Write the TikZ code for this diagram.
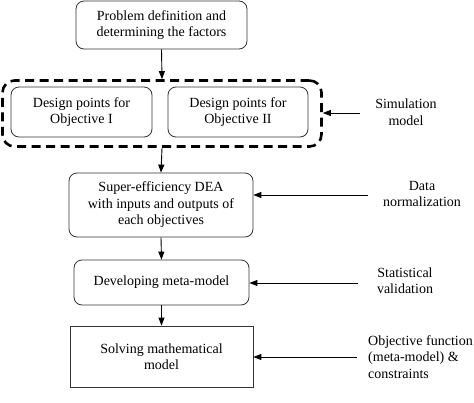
\documentclass[tikz,border=0pt]{standalone}
\usepackage{fontspec}
\setmainfont{Liberation Serif}
\usetikzlibrary{arrows.meta}
\begin{document}
\begin{tikzpicture}[x=1pt,y=-1pt,
  every node/.style={font=\fontsize{14}{16.5}\selectfont, align=center, inner sep=0pt},
  rbox/.style={draw=black!80, line width=0.8pt, rounded corners=8pt},
  sbox/.style={draw=black!80, line width=0.8pt},
  dbox/.style={draw=black, line width=2.6pt, dash pattern=on 9pt off 5.5pt, rounded corners=12pt},
  arr/.style={draw=black, line width=0.9pt, -{Triangle[length=8pt,width=6pt]}},
  side/.style={align=center}
]
\useasboundingbox (0,0) rectangle (474,402);
% boxes
\node[rbox, minimum width=171pt, minimum height=48pt] (top) at (161.5,25) {Problem definition and\\determining the factors};
\node[dbox, minimum width=319pt, minimum height=66pt] (dash) at (162,113.5) {};
\node[rbox, minimum width=141pt, minimum height=50pt] (o1) at (81.5,112) {Design points for\\Objective I};
\node[rbox, minimum width=140pt, minimum height=50pt] (o2) at (238,112) {Design points for\\Objective II};
\node[rbox, minimum width=184pt, minimum height=64pt] (dea) at (161,205) {Super-efficiency DEA\\with inputs and outputs of\\each objectives};
\node[rbox, minimum width=175pt, minimum height=45pt] (dev) at (161.5,282.5) {Developing meta-model};
\node[sbox, minimum width=183pt, minimum height=61pt] (sol) at (161.5,356.5) {Solving mathematical\\model};
% side texts
\node[side] (sim) at (406,112) {Simulation\\model};
\node[side] (dn) at (422,194) {Data\\normalization};
\node[side] (sv) at (405,280.5) {Statistical\\validation};
\node[align=left, anchor=west] (of) at (368,357) {Objective function\\(meta-model) \&\\constraints};
% arrow start points
\coordinate (s1) at (360,113);
\coordinate (s2) at (368,195);
\coordinate (s3) at (358,283);
\coordinate (s4) at (357,357);
% vertical arrows
\draw[arr] (top.south) -- (dash.north);
\draw[arr] (dash.south) -- (dea.north);
\draw[arr] (dea.south) -- (dev.north);
\draw[arr] (dev.south) -- (sol.north);
% side arrows
\draw[arr] (s1) -- (dash.east |- s1);
\draw[arr] (s2) -- (dea.east |- s2);
\draw[arr] (s3) -- (dev.east |- s3);
\draw[arr] (s4) -- (sol.east |- s4);
\end{tikzpicture}
\end{document}
